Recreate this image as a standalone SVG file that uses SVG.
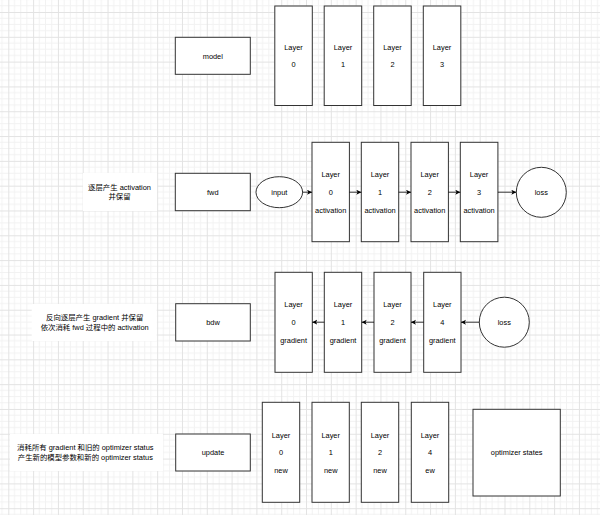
<svg xmlns="http://www.w3.org/2000/svg" width="600" height="515" viewBox="0 0 600 515">
<defs>
<pattern id="grid" patternUnits="userSpaceOnUse" x="8.3" y="12" width="24.81" height="24.81">
<path d="M6.2 0V24.81M12.4 0V24.81M18.6 0V24.81M0 6.2H24.81M0 12.4H24.81M0 18.6H24.81" stroke="#f2f2f2" stroke-width="1" fill="none"/>
<path d="M0.5 0V24.81M0 0.5H24.81" stroke="#e3e3e3" stroke-width="1" fill="none"/>
</pattern>
<marker id="arr" markerUnits="userSpaceOnUse" markerWidth="7" markerHeight="6" refX="5" refY="2.5" orient="auto">
<path d="M0,0 L5,2.5 L0,5 L1.3,2.5 z" fill="#000"/>
</marker>
</defs>
<style>
.b{fill:#fff;stroke:#333;stroke-width:1}
.t{font-family:"Liberation Sans","Noto Sans CJK SC",sans-serif;font-size:7.4px;fill:#000;text-anchor:middle}
.lbl{fill:#fff;stroke:none}
.c{stroke:#000;stroke-width:0.8;fill:none;marker-end:url(#arr)}
</style>
<rect width="600" height="515" fill="#fff"/>
<rect width="600" height="515" fill="url(#grid)"/>

<!-- Row 1 -->
<g id="model"><rect class="b" x="175.3" y="37.3" width="75" height="37"/><text class="t" x="212.8" y="58.5">model</text></g>
<g id="r1l0"><rect class="b" x="274.8" y="6" width="37.5" height="99.5"/><text class="t" x="293.5" y="49.6">Layer</text><text class="t" x="293.5" y="66.6">0</text></g>
<g id="r1l1"><rect class="b" x="324.2" y="6" width="37.5" height="99.5"/><text class="t" x="343" y="49.6">Layer</text><text class="t" x="343" y="66.6">1</text></g>
<g id="r1l2"><rect class="b" x="373.7" y="6" width="37.5" height="99.5"/><text class="t" x="392.5" y="49.6">Layer</text><text class="t" x="392.5" y="66.6">2</text></g>
<g id="r1l3"><rect class="b" x="423.3" y="6" width="37.5" height="99.5"/><text class="t" x="442" y="49.6">Layer</text><text class="t" x="442" y="66.6">3</text></g>

<!-- Row 2 -->
<g id="fwdlabel"><rect class="lbl" x="83" y="173" width="74" height="38"/><text class="t" x="119.5" y="189.9">逐层产生 activation</text><text class="t" x="119.5" y="199.3">并保留</text></g>
<g id="fwd"><rect class="b" x="175.3" y="173.3" width="75" height="37.4"/><text class="t" x="212.8" y="194.6">fwd</text></g>
<g id="input"><ellipse class="b" cx="279.3" cy="192.2" rx="23.3" ry="15.5"/><text class="t" x="279.3" y="194.8">input</text></g>
<g id="r2l0"><rect class="b" x="312" y="142.3" width="37.4" height="99.4"/><text class="t" x="330.7" y="176.6">Layer</text><text class="t" x="330.7" y="194.9">0</text><text class="t" x="330.7" y="212.6">activation</text></g>
<g id="r2l1"><rect class="b" x="361.3" y="142.3" width="37.4" height="99.4"/><text class="t" x="380" y="176.6">Layer</text><text class="t" x="380" y="194.9">1</text><text class="t" x="380" y="212.6">activation</text></g>
<g id="r2l2"><rect class="b" x="411" y="142.3" width="37.4" height="99.4"/><text class="t" x="429.7" y="176.6">Layer</text><text class="t" x="429.7" y="194.9">2</text><text class="t" x="429.7" y="212.6">activation</text></g>
<g id="r2l3"><rect class="b" x="460.3" y="142.3" width="37.6" height="99.4"/><text class="t" x="479.1" y="176.6">Layer</text><text class="t" x="479.1" y="194.9">3</text><text class="t" x="479.1" y="212.6">activation</text></g>
<g id="loss1"><circle class="b" cx="541.3" cy="192.3" r="25"/><text class="t" x="541.3" y="194.9">loss</text></g>

<!-- Row 3 -->
<g id="bdwlabel"><rect class="lbl" x="31.7" y="304" width="125" height="37"/><text class="t" x="94.7" y="320.3">反向逐层产生 gradient 并保留</text><text class="t" x="94.7" y="329.6">依次消耗 fwd 过程中的 activation</text></g>
<g id="bdw"><rect class="b" x="175.7" y="303.7" width="74.6" height="37.3"/><text class="t" x="213" y="324.9">bdw</text></g>
<g id="r3l0"><rect class="b" x="275" y="272.3" width="37.3" height="100"/><text class="t" x="293.6" y="306.9">Layer</text><text class="t" x="293.6" y="324.9">0</text><text class="t" x="293.6" y="342.6">gradient</text></g>
<g id="r3l1"><rect class="b" x="324.3" y="272.3" width="37.4" height="100"/><text class="t" x="343" y="306.9">Layer</text><text class="t" x="343" y="324.9">1</text><text class="t" x="343" y="342.6">gradient</text></g>
<g id="r3l2"><rect class="b" x="374" y="272.3" width="37" height="100"/><text class="t" x="392.5" y="306.9">Layer</text><text class="t" x="392.5" y="324.9">2</text><text class="t" x="392.5" y="342.6">gradient</text></g>
<g id="r3l4"><rect class="b" x="423.7" y="272.3" width="37.3" height="100"/><text class="t" x="442.3" y="306.9">Layer</text><text class="t" x="442.3" y="324.9">4</text><text class="t" x="442.3" y="342.6">gradient</text></g>
<g id="loss2"><circle class="b" cx="504.3" cy="322.2" r="25"/><text class="t" x="504.3" y="324.8">loss</text></g>

<!-- Row 4 -->
<g id="updlabel"><rect class="lbl" x="10" y="434" width="153" height="37"/><text class="t" x="85.3" y="450.3">消耗所有 gradient 和旧的 optimizer status</text><text class="t" x="85.3" y="459.6">产生新的模型参数和新的 optimizer status</text></g>
<g id="update"><rect class="b" x="175.7" y="434" width="74.6" height="37"/><text class="t" x="213" y="455.1">update</text></g>
<g id="r4l0"><rect class="b" x="262.3" y="402.3" width="37.4" height="100"/><text class="t" x="281" y="437.6">Layer</text><text class="t" x="281" y="455.3">0</text><text class="t" x="281" y="472.9">new</text></g>
<g id="r4l1"><rect class="b" x="312" y="402.3" width="37.3" height="100"/><text class="t" x="330.7" y="437.6">Layer</text><text class="t" x="330.7" y="455.3">1</text><text class="t" x="330.7" y="472.9">new</text></g>
<g id="r4l2"><rect class="b" x="361.3" y="402.3" width="37.4" height="100"/><text class="t" x="380" y="437.6">Layer</text><text class="t" x="380" y="455.3">2</text><text class="t" x="380" y="472.9">new</text></g>
<g id="r4l4"><rect class="b" x="411.3" y="402.3" width="37.4" height="100"/><text class="t" x="430" y="437.6">Layer</text><text class="t" x="430" y="455.3">4</text><text class="t" x="430" y="472.9">ew</text></g>
<g id="optstates"><rect class="b" x="473" y="409.3" width="87.3" height="86.7"/><text class="t" x="516.7" y="455.3">optimizer states</text></g>

<g id="connectors">
<line class="c" x1="302.6" y1="192.2" x2="312" y2="192.2"/>
<line class="c" x1="349.4" y1="192.2" x2="361.3" y2="192.2"/>
<line class="c" x1="398.7" y1="192.2" x2="411" y2="192.2"/>
<line class="c" x1="448.4" y1="192.2" x2="460.3" y2="192.2"/>
<line class="c" x1="497.9" y1="192.2" x2="516.3" y2="192.2"/>
<line class="c" x1="479.3" y1="322.2" x2="461" y2="322.2"/>
<line class="c" x1="423.7" y1="322.2" x2="411" y2="322.2"/>
<line class="c" x1="374" y1="322.2" x2="361.7" y2="322.2"/>
<line class="c" x1="324.3" y1="322.2" x2="312.3" y2="322.2"/>
</g>
</svg>
